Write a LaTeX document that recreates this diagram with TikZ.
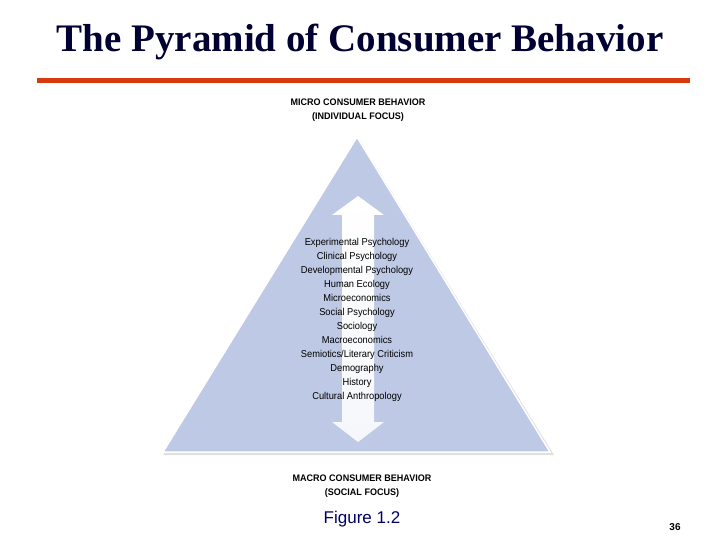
\documentclass[tikz,border=0pt]{standalone}
\usepackage{fontspec}
\setmainfont{Liberation Serif}
\newfontfamily\sans{Liberation Sans}
\usetikzlibrary{calc}
\definecolor{pyr}{HTML}{BDC9E5}
\definecolor{redl}{HTML}{D83A10}
\begin{document}
\begin{tikzpicture}[x=1pt,y=-1pt,
  lab/.style={font=\sans\fontsize{9.5}{14}\selectfont\bfseries,align=center,inner sep=0pt,xscale=0.95},
  item/.style={font=\sans\fontsize{10}{14}\selectfont,align=center,inner sep=0pt,xscale=0.93}]
\useasboundingbox (0,0) rectangle (720,540);
\node[font=\fontsize{39}{44}\selectfont\bfseries,text=black!80!blue] (title) at (360,42) {The Pyramid of Consumer Behavior};
\coordinate (rl) at (37,81); \coordinate (rr) at (690,81);
\draw[redl,line width=5pt] (rl) -- (rr);
\coordinate (ta) at (357,137); \coordinate (tl) at (163,452); \coordinate (tr) at (550,452);
\fill[black!12] ($(ta)+(2,2)$) -- ($(tl)+(0,3)$) -- ($(tr)+(4,3)$) -- cycle;
\fill[pyr,draw=white,line width=1.5pt] (ta) -- (tl) -- (tr) -- cycle;
\shade[top color=white, bottom color=white!85!pyr]
  (358,196) -- (384,215) -- (374,215) -- (374,422) -- (384,422) -- (358,442)
  -- (332,422) -- (342,422) -- (342,215) -- (332,215) -- cycle;
\node[lab] (top) at (358,110) {MICRO CONSUMER BEHAVIOR\\(INDIVIDUAL FOCUS)};
\node[item] (list) at (357,320) {Experimental Psychology\\Clinical Psychology\\Developmental Psychology\\Human Ecology\\Microeconomics\\Social Psychology\\Sociology\\Macroeconomics\\Semiotics/Literary Criticism\\Demography\\History\\Cultural Anthropology};
\node[lab] (bot) at (362,486) {MACRO CONSUMER BEHAVIOR\\(SOCIAL FOCUS)};
\node[font=\sans\fontsize{17}{20}\selectfont,text=blue!40!black] (fig) at (362,519) {Figure 1.2};
\node[font=\sans\fontsize{10}{12}\selectfont\bfseries] (pg) at (675,527) {36};
\end{tikzpicture}
\end{document}
